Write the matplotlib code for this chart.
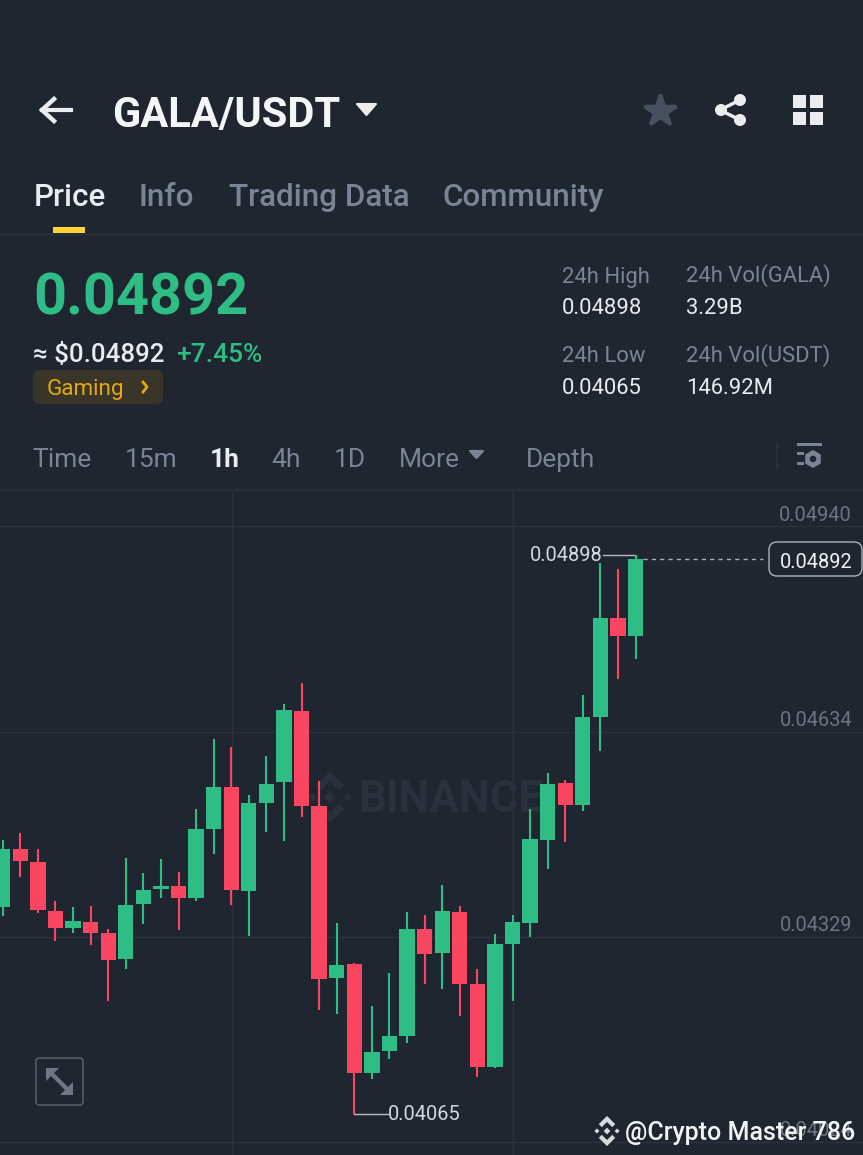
import matplotlib
matplotlib.use('Agg')
import matplotlib.pyplot as plt
from matplotlib.patches import FancyBboxPatch, Polygon, Circle, Rectangle
import numpy as np

plt.rcParams['font.family'] = ['Roboto', 'DejaVu Sans']

# candles, oldest first
opens = [0.04373, 0.04460, 0.04441, 0.04368, 0.04342, 0.04352, 0.04335, 0.04297, 0.04378, 0.04400,
         0.04405, 0.04387, 0.04489, 0.04552, 0.04397, 0.04529, 0.04559, 0.04665, 0.04524, 0.04268,
         0.04289, 0.04126, 0.04160, 0.04182, 0.04341, 0.04305, 0.04366, 0.04259, 0.04136, 0.04319,
         0.04350, 0.04474, 0.04558, 0.04525, 0.04656, 0.04804, 0.04777]
closes = [0.04460, 0.04442, 0.04369, 0.04343, 0.04353, 0.04335, 0.04295, 0.04376, 0.04399, 0.04405,
          0.04387, 0.04489, 0.04552, 0.04399, 0.04528, 0.04557, 0.04666, 0.04524, 0.04266, 0.04288,
          0.04126, 0.04158, 0.04182, 0.04341, 0.04303, 0.04367, 0.04259, 0.04135, 0.04319, 0.04351,
          0.04475, 0.04556, 0.04526, 0.04656, 0.04804, 0.04777, 0.04892]
highs = [0.04474, 0.04483, 0.04460, 0.04382, 0.04373, 0.04375, 0.04341, 0.04446, 0.04424, 0.04445,
         0.04425, 0.04520, 0.04623, 0.04611, 0.04540, 0.04599, 0.04675, 0.04707, 0.04561, 0.04350,
         0.04291, 0.04227, 0.04275, 0.04366, 0.04362, 0.04406, 0.04375, 0.04281, 0.04334, 0.04362,
         0.04519, 0.04573, 0.04563, 0.04689, 0.04885, 0.04876, 0.04898]
lows = [0.04360, 0.04418, 0.04364, 0.04323, 0.04335, 0.04317, 0.04234, 0.04282, 0.04349, 0.04387,
        0.04339, 0.04383, 0.04452, 0.04377, 0.04330, 0.04485, 0.04472, 0.04507, 0.04221, 0.04215,
        0.04065, 0.04117, 0.04148, 0.04171, 0.04259, 0.04252, 0.04212, 0.04120, 0.04134, 0.04234,
        0.04329, 0.04430, 0.04471, 0.04517, 0.04605, 0.04713, 0.04743]
grid_prices = [0.04940, 0.04634, 0.04329, 0.04024]
grid_labels = ['0.04940', '0.04634', '0.04329', '0.04024']

tabs = ['Price', 'Info', 'Trading Data', 'Community']
intervals = ['Time', '15m', '1h', '4h', '1D', 'More', 'Depth']

BG = '#1f2630'
GRID = '#2b323d'
GREEN = '#2ebd85'
RED = '#fb4661'
GREY = '#7b8494'
WHITE = '#eaecef'
MARK = '#2b313c'

fig = plt.figure(figsize=(8.63, 11.55), dpi=100, facecolor=BG)
H = 1155
top_px = 490


def binance_logo(axes, cx, cy, r, color):
    for dx, k in [(0, 0.24), (-0.72, 0.18), (0.72, 0.18)]:
        axes.add_patch(Polygon([(cx + dx * r - k * r, cy), (cx + dx * r, cy - k * r),
                                (cx + dx * r + k * r, cy), (cx + dx * r, cy + k * r)], color=color, lw=0))
    lw = r * 0.22
    for sign in [-1, 1]:
        axes.plot([cx - 0.48 * r, cx, cx + 0.48 * r],
                  [cy + sign * 0.38 * r, cy + sign * 0.86 * r, cy + sign * 0.38 * r],
                  color=color, lw=lw, solid_joinstyle='miter', solid_capstyle='butt')


# watermark stays under the candles
wm = fig.add_axes([0, 0, 1, 1], facecolor=BG, zorder=0)
wm.set_xlim(0, 863)
wm.set_ylim(H, 0)
wm.axis('off')
binance_logo(wm, 330, 797, 24, MARK)
wm.text(358, 800, 'BINANCE', color=MARK, fontsize=31.5, fontweight='bold', va='center', ha='left')

####################
#####  chart   #####
####################
ax = fig.add_axes([0, 0, 1, (H - top_px) / H], facecolor='none', zorder=1)

# one pixel of height in price, and one candle step in pixels
price_px = (0.04634 - 0.04329) / 205
step_px = 17.58
first_px = 2.7
ax.set_xlim(-first_px / step_px, (863 - first_px) / step_px)
ax.set_ylim(0.04634 + (732 - H) * price_px, 0.04634 + (732 - top_px) * price_px)
for s in ax.spines.values():
    s.set_visible(False)
ax.tick_params(left=False, bottom=False, labelleft=False, labelbottom=False)


def step_x(x_px):
    return (x_px - first_px) / step_px


ax.set_yticks(grid_prices)
ax.set_xticks([step_x(231.5), step_x(513)])
ax.grid(True, color=GRID, lw=1, zorder=0)
ax.set_axisbelow(True)

x = np.arange(len(opens))
o = np.array(opens)
c = np.array(closes)
up = c >= o
colors = np.where(up, GREEN, RED)
ax.vlines(x, lows, highs, colors=colors, lw=1.5, zorder=3)
ax.bar(x, np.maximum(np.abs(c - o), 3e-5), bottom=np.minimum(o, c), width=0.87, color=colors, zorder=4)

# axis labels sit just above their grid lines
for p, lab in zip(grid_prices, grid_labels):
    ax.text(step_x(852), p + 11 * price_px, lab, color='#6d7583', fontsize=14.4, ha='right', va='center', zorder=2)

# high / low leaders
last = len(opens) - 1
ax.plot([last, last, step_x(603)], [closes[-1], highs[-1], highs[-1]], color='#b8bcc4', lw=1, zorder=2)
ax.text(step_x(603), highs[-1] - price_px, '0.04898', color='#d5d8dd', fontsize=14.4, ha='right', va='center', zorder=5)
i_low = int(np.argmin(lows))
ax.plot([i_low, step_x(388)], [lows[i_low], lows[i_low]], color='#b8bcc4', lw=1, zorder=2)
ax.text(step_x(388), lows[i_low], '0.04065', color='#d5d8dd', fontsize=14.4, ha='left', va='center', zorder=5)

# last price
ax.plot([last + 0.45, step_x(763)], [closes[-1], closes[-1]], color='#a9aeb7', lw=1, dashes=(3, 3), zorder=2)

####################
#####    UI    #####
####################
ui = fig.add_axes([0, 0, 1, 1], facecolor='none', zorder=2)
ui.set_xlim(0, 863)
ui.set_ylim(H, 0)
ui.axis('off')


def label(px, py, s, color=GREY, size=20, weight='normal', ha='left'):
    # roboto sits a little high when centred
    ui.text(px, py + 2, s, color=color, fontsize=size, fontweight=weight, ha=ha, va='center')


def bar(x0, y0, x1, y1, color):
    ui.add_patch(Rectangle((x0, y0), x1 - x0, y1 - y0, color=color, lw=0))


# header
ui.plot([42, 71], [110, 110], color=WHITE, lw=3)
ui.plot([54, 42, 54], [99, 110, 121], color=WHITE, lw=3.2, solid_joinstyle='miter')
label(112, 113, 'GALA/USDT', color='#f4f5f6', size=30, weight='bold')
ui.add_patch(Polygon([(357, 104), (376, 104), (366.5, 115)], fc=WHITE, ec=WHITE, lw=1.5, joinstyle='round'))
ui.plot([660], [111], marker='*', ms=24, color='#47505f', mec='#47505f', mew=2.5)
for a, b in [((720, 110), (740, 100)), ((720, 110), (740, 120))]:
    ui.plot([a[0], b[0]], [a[1], b[1]], color=WHITE, lw=2.5)
for cx, cy in [(740, 100), (721, 110), (740, 120)]:
    ui.add_patch(Circle((cx, cy), 6, color=WHITE, lw=0))
for x0, y0 in [(793, 95), (810, 95), (793, 112), (810, 112)]:
    bar(x0, y0, x0 + 13, y0 + 13, WHITE)

# tabs
for s, px, col in zip(tabs, [34, 138, 229, 442], [WHITE, GREY, GREY, GREY]):
    label(px, 195, s, color=col, size=22.6, weight='medium')
bar(53, 227, 85, 233, '#fcd535')
ui.plot([0, 863], [234, 234], color=GRID, lw=1)

# price block
label(33, 297, '0.04892', color=GREEN, size=41.5, weight='bold')
label(33, 353, '≈ $0.04892', color=WHITE, size=18.6, weight='medium')
label(176, 353, '+7.45%', color=GREEN, size=19, weight='medium')
ui.add_patch(FancyBboxPatch((39, 376), 118, 22, boxstyle='round,pad=6,rounding_size=7', fc='#3a3529', ec='none'))
label(47, 388, 'Gaming', color='#e3a90e', size=16.2)
ui.plot([143, 147, 143], [382, 387, 392], color='#e3a90e', lw=2)

# 24h stats
label(562, 275, '24h High', size=15.8)
label(562, 306, '0.04898', color=WHITE, size=15.8)
label(562, 355, '24h Low', size=15.8)
label(562, 386, '0.04065', color=WHITE, size=15.8)
label(686, 274, '24h Vol(GALA)', size=15.8)
label(686, 306, '3.29B', color=WHITE, size=15.8)
label(686, 354, '24h Vol(USDT)', size=15.8)
label(686, 386, '146.92M', color=WHITE, size=15.8)

# intervals
for s, px in zip(intervals, [32, 125, 210, 271, 334, 399, 526]):
    if s == '1h':
        label(px, 458, s, color=WHITE, size=19, weight='bold')
    else:
        label(px, 458, s, size=19)
ui.add_patch(Polygon([(470, 451), (483, 451), (476.5, 458)], fc=GREY, ec=GREY, lw=1.5, joinstyle='round'))
ui.plot([777, 777], [443, 469], color=GRID, lw=1.2)
bar(797, 443, 822, 446, GREY)
bar(797, 452, 804, 455, GREY)
bar(797, 462, 804, 465, GREY)
ang = np.deg2rad(np.arange(30, 390, 60))
ui.add_patch(Polygon(np.c_[813 + 9 * np.cos(ang), 459 + 9 * np.sin(ang)], color=GREY, lw=0))
ui.add_patch(Circle((813, 459), 3.3, color=BG, lw=0))
ui.plot([0, 863], [490, 490], color=GRID, lw=1.2)

# last price tag
ui.add_patch(FancyBboxPatch((776, 549), 79, 20, boxstyle='round,pad=7,rounding_size=8', fc=BG, ec='#aeb2ba', lw=1))
label(816, 560, '0.04892', color='#f0f1f3', size=14.4, ha='center')

# expand button
ui.add_patch(FancyBboxPatch((39, 1061), 41, 41, boxstyle='round,pad=3,rounding_size=3', fc='none', ec='#525a68', lw=1.2))
ui.add_patch(Polygon([(46, 1068), (59, 1068), (46, 1081)], color='#6f7786', lw=0))
ui.add_patch(Polygon([(73, 1095), (60, 1095), (73, 1082)], color='#6f7786', lw=0))
ui.plot([50, 69], [1072, 1091], color='#6f7786', lw=3)

# watermark over the chart
binance_logo(ui, 607, 1131, 14, '#d8dade')
label(625, 1131, '@Crypto Master 786', color='#f2f3f4', size=18, weight='medium')

fig.savefig('out.png', dpi=100, facecolor=BG)
